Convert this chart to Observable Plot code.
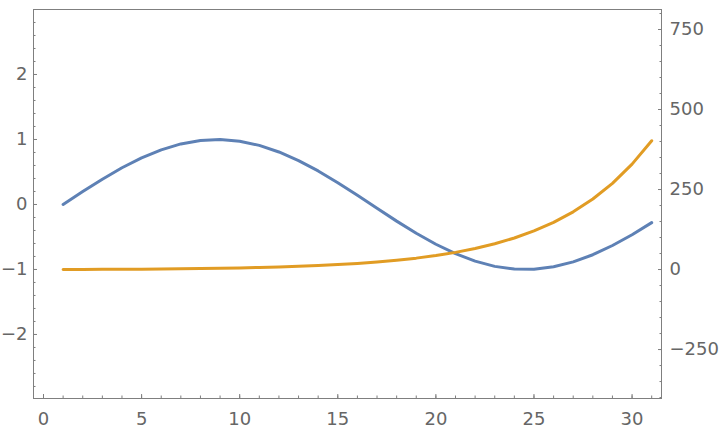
<!DOCTYPE html>
<html>
<head>
<meta charset="utf-8">
<script src="https://cdn.jsdelivr.net/npm/d3@7"></script>
<script src="https://cdn.jsdelivr.net/npm/@observablehq/plot@0.6"></script>
<style>
  html, body { margin: 0; padding: 0; background: #fff; }
  #chart svg { display: block; }
</style>
</head>
<body>
<div id="chart"></div>
<script>
// x positions (integers 1..31)
const xValues = [1,2,3,4,5,6,7,8,9,10,11,12,13,14,15,16,17,18,19,20,21,22,23,24,25,26,27,28,29,30,31];
// blue series (left axis)
const blueValues = [0,0.199,0.389,0.565,0.717,0.841,0.932,0.985,1.0,0.974,0.909,0.808,0.675,0.516,0.335,0.141,
  -0.058,-0.256,-0.443,-0.612,-0.757,-0.872,-0.952,-0.994,-0.996,-0.959,-0.883,-0.773,-0.631,-0.465,-0.279];
// orange series (right axis)
const orangeValues = [0,0.22,0.49,0.82,1.23,1.72,2.32,3.06,3.95,5.05,6.39,8.03,10.0,12.5,15.4,19.1,
  23.5,29.0,35.6,43.7,53.6,65.7,80.4,98.5,120.5,147.4,180.3,220.3,269.4,329.3,402.4];

// tick values
const xMajorTicks = [0,5,10,15,20,25,30];
const xMinorTicks = d3.range(0, 32, 1);
const leftMajorTicks = [-2,-1,0,1,2];
const leftMinorTicks = d3.range(-2.8, 3.01, 0.2).map(v => +v.toFixed(1));
const rightMajorTicks = [-250,0,250,500,750];
const rightMinorTicks = d3.range(-400, 801, 50);

// axis domains
const xDomain = [-0.51, 31.5];
const leftDomain = [-2.985, 3.0];
const rightDomain = [-403, 812.5];

// map right-axis values into left-axis coordinates
const toLeft = d3.scaleLinear().domain(rightDomain).range(leftDomain);
const toRight = toLeft.invert;

const blueData = xValues.map((x, i) => ({x, y: blueValues[i]}));
const orangeData = xValues.map((x, i) => ({x, y: toLeft(orangeValues[i])}));

const axisColor = "#7f7f7f";
const labelColor = "#666666";
const fmt = d3.format("d");

const chart = Plot.plot({
  width: 720,
  height: 430,
  marginTop: 9,
  marginBottom: 32,
  marginLeft: 33,
  marginRight: 59,
  style: {fontFamily: "DejaVu Sans", fontSize: "18px", color: labelColor, background: "#fff"},
  x: {domain: xDomain, label: null},
  y: {domain: leftDomain, label: null},
  marks: [
    Plot.frame({stroke: axisColor, strokeOpacity: 1}),
    // inward ticks
    Plot.axisX(xMajorTicks, {tickSize: -4, text: null, label: null, stroke: axisColor, strokeOpacity: 1}),
    Plot.axisX(xMinorTicks, {tickSize: -2.5, text: null, label: null, stroke: axisColor, strokeOpacity: 1}),
    Plot.axisY(leftMajorTicks, {tickSize: -4, text: null, label: null, stroke: axisColor, strokeOpacity: 1}),
    Plot.axisY(leftMinorTicks, {tickSize: -2.5, text: null, label: null, stroke: axisColor, strokeOpacity: 1}),
    Plot.axisY(rightMajorTicks.map(toLeft), {anchor: "right", tickSize: -4, text: null, label: null, stroke: axisColor, strokeOpacity: 1}),
    Plot.axisY(rightMinorTicks.map(toLeft), {anchor: "right", tickSize: -2.5, text: null, label: null, stroke: axisColor, strokeOpacity: 1}),
    // labels
    Plot.axisX(xMajorTicks, {tickSize: 0, tickPadding: 14, label: null, fill: labelColor, fontSize: 18}),
    Plot.axisY(leftMajorTicks, {tickSize: 0, tickPadding: 6, label: null, fill: labelColor, fontSize: 18,
      tickFormat: d => fmt(d).replace("-", "\u2212")}),
    Plot.axisY(rightMajorTicks.map(toLeft), {anchor: "right", tickSize: 0, tickPadding: 8, label: null,
      fill: labelColor, fontSize: 18, tickFormat: d => fmt(Math.round(toRight(d))).replace("-", "\u2212")}),
    Plot.line(blueData, {x: "x", y: "y", stroke: "#5E81B5", strokeWidth: 3}),
    Plot.line(orangeData, {x: "x", y: "y", stroke: "#E19C24", strokeWidth: 3})
  ]
});
document.getElementById("chart").appendChild(chart);
</script>
</body>
</html>
